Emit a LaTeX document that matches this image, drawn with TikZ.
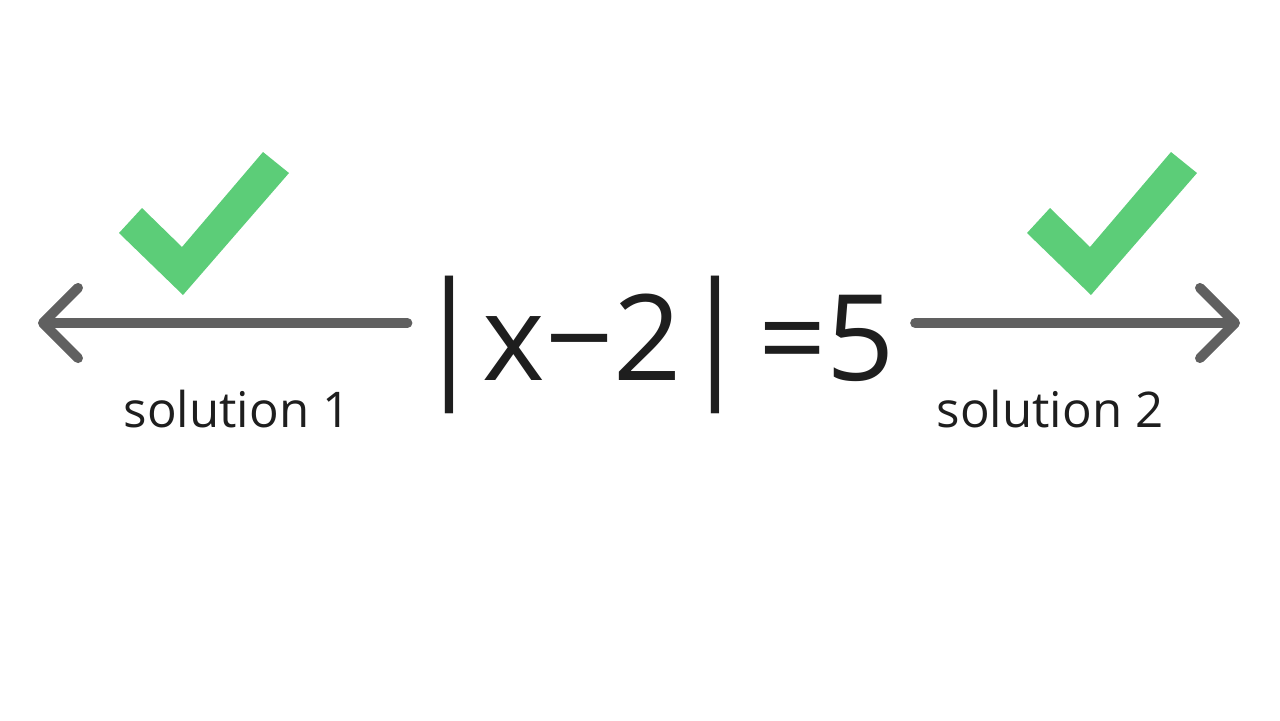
\documentclass[tikz,border=0pt]{standalone}
\usepackage{fontspec}
\usepackage{graphicx}
\setmainfont{Open Sans}
\usetikzlibrary{arrows.meta, positioning}
\definecolor{arrowgray}{RGB}{96,96,96}
\definecolor{tickgreen}{RGB}{92,205,120}
\definecolor{textblack}{RGB}{30,30,30}
\newcommand{\tallbar}{\scalebox{1}[1.15]{|}}

\begin{document}
\begin{tikzpicture}[x=0.1mm, y=-0.1mm,
    axis/.style={draw=arrowgray, line width=2.8pt, line cap=round,
      -{Straight Barb[length=10pt, width=20pt, line cap=round, line join=round]}},
    soltext/.style={font=\fontsize{14}{17}\selectfont, text=textblack, anchor=base},
    checkmark/.pic={\fill[tickgreen] (-64,-62) -- (0,0) -- (106,-122) -- (80,-143) -- (-1,-48) -- (-41,-87) -- cycle;}]
    \useasboundingbox (0,0) rectangle (1280,720);

    % Equation in the middle
    \node[font=\fontsize{34}{40}\selectfont, text=textblack, anchor=base, inner xsep=2.5pt] (eq) at (656,380) {\tallbar x−2\tallbar\hspace{3pt}=5};

    % Free ends of the two arrows
    \coordinate (lend) at (38,323);
    \coordinate (rend) at (1240,323);
    \draw[axis] (eq.west |- lend) -- (lend);
    \draw[axis] ([xshift=3pt]eq.east |- rend) -- (rend);

    % Labels under the arrows
    \node[soltext] (sol1) at (237,427) {solution 1};
    \node[soltext] (sol2) at (1050,427) {solution 2};

    % Check marks
    \pic at (183,295) {checkmark};
    \pic at (1091,295) {checkmark};
\end{tikzpicture}
\end{document}
